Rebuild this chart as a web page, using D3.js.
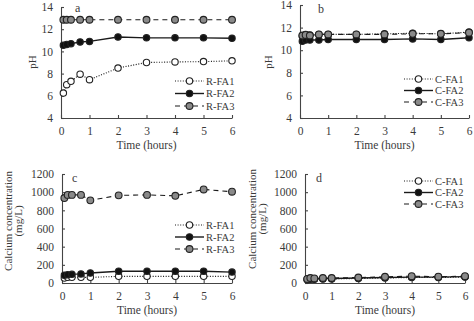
<!DOCTYPE html>
<meta charset="utf-8">
<style>
  body { margin: 0; background: #fff; }
  text { font-family: "Times New Roman", "Liberation Serif", serif; font-weight: normal; fill: #3a3a3a; }
</style>
<body>
<svg width="474" height="321"></svg>
<script src="https://cdnjs.cloudflare.com/ajax/libs/d3/7.8.5/d3.min.js"></script>
<script>
// sampling times (hours)
var times = [0.083, 0.2, 0.35, 0.67, 1, 2, 3, 4, 5, 6];
var xTicks = [0, 1, 2, 3, 4, 5, 6];

// pH, raw fly ash
var phR1 = [6.25, 7.0, 7.3, 7.95, 7.45, 8.5, 9.0, 9.05, 9.08, 9.15];
var phR2 = [10.55, 10.62, 10.7, 10.85, 10.9, 11.3, 11.22, 11.22, 11.22, 11.18];
var phR3 = [12.85, 12.85, 12.85, 12.85, 12.85, 12.85, 12.85, 12.85, 12.85, 12.85];
// pH, carbonated fly ash
var phC1 = [11.25, 11.4, 11.35, 11.4, 11.4, 11.4, 11.45, 11.5, 11.45, 11.6];
var phC2 = [10.8, 10.9, 10.9, 10.9, 10.95, 10.95, 10.95, 11.0, 10.95, 11.1];
var phC3 = [11.3, 11.35, 11.3, 11.4, 11.4, 11.4, 11.4, 11.45, 11.45, 11.55];
// calcium (mg/L)
var caR1 = [55, 62, 62, 62, 62, 73, 73, 73, 73, 73];
var caR2 = [85, 92, 95, 100, 110, 130, 130, 130, 130, 120];
var caR3 = [935, 970, 970, 970, 910, 965, 970, 960, 1030, 1005];
var caC1 = [35, 40, 40, 45, 45, 50, 55, 60, 60, 65];
var caC2 = [40, 45, 45, 48, 50, 55, 60, 65, 65, 70];
var caC3 = [45, 55, 50, 55, 55, 60, 68, 75, 70, 75];

var phTicks = [4, 6, 8, 10, 12, 14];
var caTicks = [0, 200, 400, 600, 800, 1000, 1200];

var styles = [
  { dash: "1,1.6", fill: "#fff", r: 3.2 },
  { dash: null, fill: "#111", r: 3.2 },
  { dash: "5,4", fill: "#8a8a8a", r: 3.4 }
];

var panels = [
  { letter: "a", x0: 61, x1: 232, yTop: 7, yBot: 118, dom: [4, 14], ticks: phTicks,
    series: [phR1, phR2, phR3], names: ["R-FA1", "R-FA2", "R-FA3"],
    ylab: ["pH"], ylabX: 32, ylabY: 62, leg: { x: 175, y: 81, dy: 12.5 }, letterPos: [75, 12] },
  { letter: "b", x0: 300, x1: 469, yTop: 5, yBot: 118, dom: [4, 14], ticks: phTicks,
    series: [phC1, phC2, phC3], names: ["C-FA1", "C-FA2", "C-FA3"],
    ylab: ["pH"], ylabX: 268, ylabY: 62, leg: { x: 404, y: 79, dy: 11.5 }, letterPos: [318, 13] },
  { letter: "c", x0: 62, x1: 232, yTop: 174, yBot: 283, dom: [0, 1200], ticks: caTicks,
    series: [caR1, caR2, caR3], names: ["R-FA1", "R-FA2", "R-FA3"],
    ylab: ["Calcium concentration", "(mg/L)"], ylabX: 8, ylabY: 221, leg: { x: 175, y: 225, dy: 12 }, letterPos: [72, 182] },
  { letter: "d", x0: 305, x1: 465, yTop: 174, yBot: 283, dom: [0, 1200], ticks: caTicks,
    series: [caC1, caC2, caC3], names: ["C-FA1", "C-FA2", "C-FA3"],
    ylab: ["Calcium concentration", "(mg/L)"], ylabX: 252, ylabY: 219, leg: { x: 404, y: 181, dy: 11.5 }, letterPos: [316, 182] }
];

var svg = d3.select("svg");

panels.forEach(function(p) {
  var x = d3.scaleLinear().domain([0, 6]).range([p.x0, p.x1]);
  var y = d3.scaleLinear().domain(p.dom).range([p.yBot, p.yTop]);
  var g = svg.append("g");

  var xAxis = d3.axisBottom(x).tickValues(xTicks).tickFormat(d3.format("d"))
    .tickSizeInner(-3).tickSizeOuter(0).tickPadding(9);
  var yAxis = d3.axisLeft(y).tickValues(p.ticks).tickFormat(d3.format("d"))
    .tickSizeInner(-3).tickSizeOuter(0).tickPadding(8);

  var gx = g.append("g").attr("transform", "translate(0," + p.yBot + ")").call(xAxis);
  var gy = g.append("g").attr("transform", "translate(" + p.x0 + ",0)").call(yAxis);
  [gx, gy].forEach(function(a) {
    a.attr("font-family", null).attr("font-size", null);
    a.selectAll("path, line").attr("stroke", "#444").attr("stroke-width", 1.1);
    a.selectAll("text").style("font-size", "11.5px").attr("fill", null);
  });

  g.append("text").attr("x", (p.x0 + p.x1) / 2).attr("y", p.yBot + 31)
    .attr("text-anchor", "middle").style("font-size", "11.5px").text("Time (hours)");

  p.ylab.forEach(function(t, i) {
    g.append("text").attr("transform", "translate(" + (p.ylabX + i * 10) + "," + p.ylabY + ") rotate(-90)")
      .attr("text-anchor", "middle").attr("dy", "0.35em").style("font-size", "11px").text(t);
  });

  g.append("text").attr("x", p.letterPos[0]).attr("y", p.letterPos[1])
    .style("font-size", "12px").text(p.letter);

  var line = d3.line().x(function(d, i) { return x(times[i]); }).y(function(d) { return y(d); });

  p.series.forEach(function(s, k) {
    var st = styles[k];
    g.append("path").datum(s).attr("d", line).attr("fill", "none")
      .attr("stroke", "#1a1a1a").attr("stroke-width", k === 1 ? 1.4 : 1.1)
      .attr("stroke-dasharray", st.dash);
    g.selectAll(null).data(s).enter().append("circle")
      .attr("cx", function(d, i) { return x(times[i]); })
      .attr("cy", function(d) { return y(d); })
      .attr("r", st.r).attr("fill", st.fill).attr("stroke", "#222").attr("stroke-width", 1.1);
  });

  // legend
  p.names.forEach(function(n, k) {
    var st = styles[k];
    var ly = p.leg.y + k * p.leg.dy;
    g.append("line").attr("x1", p.leg.x).attr("x2", p.leg.x + 29).attr("y1", ly).attr("y2", ly)
      .attr("stroke", "#1a1a1a").attr("stroke-width", k === 1 ? 1.4 : 1.1).attr("stroke-dasharray", st.dash);
    g.append("circle").attr("cx", p.leg.x + 14.5).attr("cy", ly).attr("r", st.r)
      .attr("fill", st.fill).attr("stroke", "#222").attr("stroke-width", 1.1);
    g.append("text").attr("x", p.leg.x + 31).attr("y", ly).attr("dy", "0.35em")
      .style("font-size", "10.5px").text(n);
  });
});
</script>
</body>
